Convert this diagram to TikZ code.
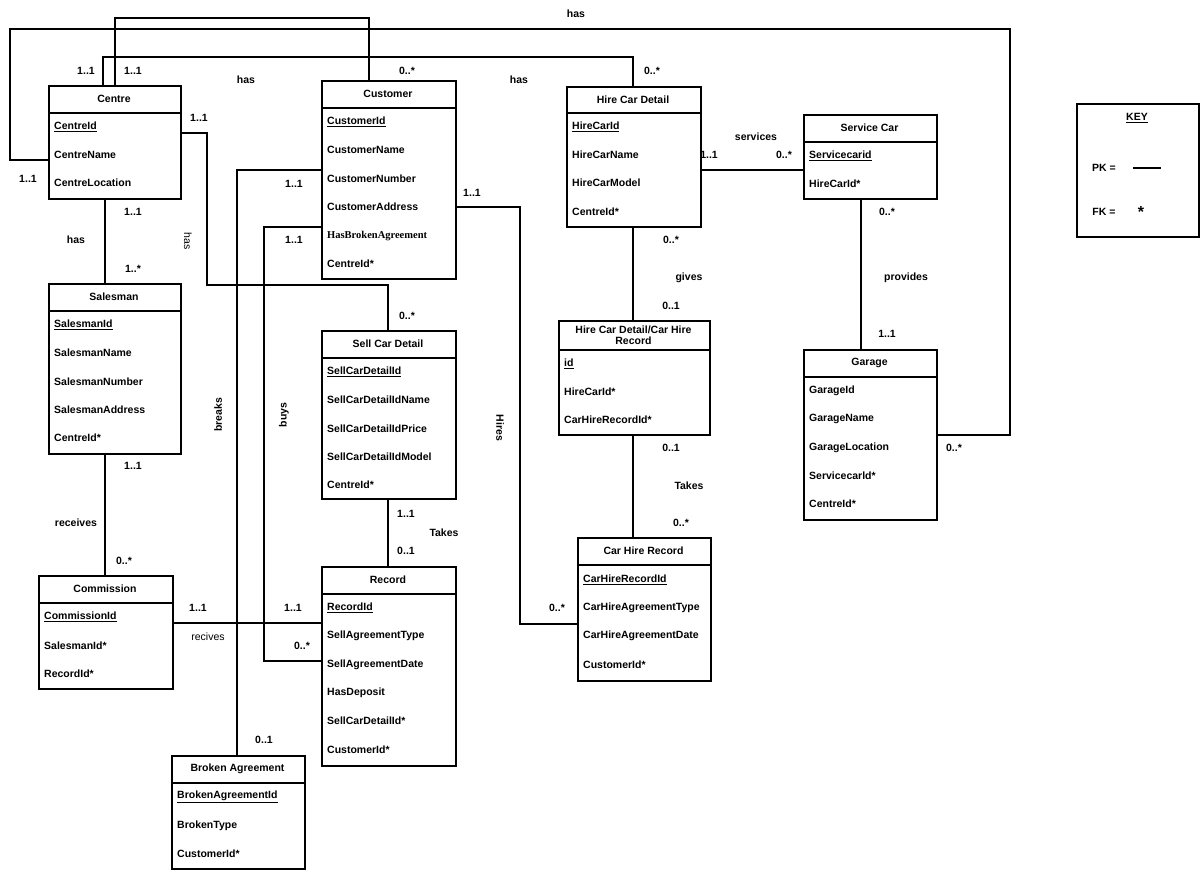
\documentclass[tikz,border=0pt]{standalone}
\usepackage{fontspec}
\setmainfont{Liberation Sans}
\newfontfamily\serifb{Liberation Serif}
\begin{document}
\begin{tikzpicture}[x=1pt,y=-1pt,
  box/.style={draw,line width=1.6pt,inner sep=0pt,rectangle},
  ttl/.style={font=\fontsize{10.5}{12}\selectfont\bfseries,inner sep=0pt},
  attr/.style={font=\fontsize{10.5}{12}\selectfont\bfseries,anchor=west,inner sep=0pt},
  lbl/.style={font=\fontsize{10.5}{12}\selectfont\bfseries,inner sep=0pt},
  conn/.style={line width=1.4pt}]
\useasboundingbox (0,0) rectangle (1200,870);
\newcommand\entity[7]{%
  \node[box,minimum width={#4-#2},minimum height={#5-#3},anchor=north west] (#1) at (#2,#3) {};
  \draw[line width=1.6pt] (#2,#6) -- (#4,#6);
  \node[ttl,align=center] (#1-t) at ({(#2+#4)/2},{(#3+#6)/2}) {#7};}
% Centre
\entity{centre}{48}{85}{180}{198}{113}{Centre}
\node[attr] (centre-1) at (54,127) {\underline{CentreId}};
\node[attr] (centre-2) at (54,155) {CentreName};
\node[attr] (centre-3) at (54,183) {CentreLocation};
% Customer
\entity{customer}{321}{80}{455}{278}{108}{Customer}
\node[attr] (cu-1) at (327,122) {\underline{CustomerId}};
\node[attr] (cu-2) at (327,150) {CustomerName};
\node[attr] (cu-3) at (327,179) {CustomerNumber};
\node[attr] (cu-4) at (327,207) {CustomerAddress};
\node[attr,font=\serifb\fontsize{10.5}{12}\selectfont\bfseries] (cu-5) at (327,236) {HasBrokenAgreement};
\node[attr] (cu-6) at (327,264) {CentreId*};
% Hire Car Detail
\entity{hcd}{566}{86}{700}{226}{113}{Hire Car Detail}
\node[attr] (hcd-1) at (572,127) {\underline{HireCarId}};
\node[attr] (hcd-2) at (572,155) {HireCarName};
\node[attr] (hcd-3) at (572,183) {HireCarModel};
\node[attr] (hcd-4) at (572,212) {CentreId*};
% Service Car
\entity{service}{803}{114}{936}{198}{142}{Service Car}
\node[attr] (sc-1) at (809,156) {\underline{Servicecarid}};
\node[attr] (sc-2) at (809,184) {HireCarId*};
% KEY
\node[box,minimum width=122,minimum height=133,anchor=north west] (key) at (1076,103) {};
\node[lbl] (key-t) at (1137,118) {\underline{KEY}};
\node[lbl] (key-pk) at (1104,168) {PK =};
\draw[line width=1.2pt] (1133,168) -- (1161,168);
\node[lbl] (key-fk) at (1104,212) {FK =};
\node[lbl,font=\fontsize{16}{16}\selectfont\bfseries] (key-star) at (1141,212) {*};
% Salesman
\entity{salesman}{48}{283}{180}{453}{311}{Salesman}
\node[attr] (sa-1) at (54,325) {\underline{SalesmanId}};
\node[attr] (sa-2) at (54,353) {SalesmanName};
\node[attr] (sa-3) at (54,382) {SalesmanNumber};
\node[attr] (sa-4) at (54,410) {SalesmanAddress};
\node[attr] (sa-5) at (54,438) {CentreId*};
% Sell Car Detail
\entity{sell}{321}{330}{455}{498}{358}{Sell Car Detail}
\node[attr] (se-1) at (327,372) {\underline{SellCarDetailId}};
\node[attr] (se-2) at (327,400) {SellCarDetailIdName};
\node[attr] (se-3) at (327,429) {SellCarDetailIdPrice};
\node[attr] (se-4) at (327,457) {SellCarDetailIdModel};
\node[attr] (se-5) at (327,485) {CentreId*};
% Hire Car Detail/Car Hire Record
\entity{hcdchr}{558}{320}{709}{434}{350}{Hire Car Detail/Car Hire\\[-1pt]Record}
\node[attr] (hc-1) at (564,364) {\underline{id}};
\node[attr] (hc-2) at (564,392) {HireCarId*};
\node[attr] (hc-3) at (564,420) {CarHireRecordId*};
% Garage
\entity{garage}{803}{349}{936}{519}{377}{Garage}
\node[attr] (ga-1) at (809,391) {GarageId};
\node[attr] (ga-2) at (809,419) {GarageName};
\node[attr] (ga-3) at (809,448) {GarageLocation};
\node[attr] (ga-4) at (809,476) {Servicecarld*};
\node[attr] (ga-5) at (809,504) {CentreId*};
% Commission
\entity{commission}{38}{575}{172}{688}{603}{Commission}
\node[attr] (co-1) at (44,617) {\underline{CommissionId}};
\node[attr] (co-2) at (44,646) {SalesmanId*};
\node[attr] (co-3) at (44,674) {RecordId*};
% Record
\entity{record}{321}{566}{455}{765}{594}{Record}
\node[attr] (re-1) at (327,608) {\underline{RecordId}};
\node[attr] (re-2) at (327,636) {SellAgreementType};
\node[attr] (re-3) at (327,665) {SellAgreementDate};
\node[attr] (re-4) at (327,693) {HasDeposit};
\node[attr] (re-5) at (327,721) {SellCarDetailId*};
\node[attr] (re-6) at (327,750) {CustomerId*};
% Car Hire Record
\entity{chr}{577}{537}{710}{680}{565}{Car Hire Record}
\begin{scope}
\clip (577,537) rectangle (709,680);
\node[attr] (ch-1) at (583,580) {\underline{CarHireRecordId}};
\node[attr] (ch-2) at (583,608) {CarHireAgreementType};
\node[attr] (ch-3) at (583,636) {CarHireAgreementDate};
\node[attr] (ch-4) at (583,665) {CustomerId*};
\end{scope}
% Broken Agreement
\entity{broken}{171}{755}{304}{868}{783}{Broken Agreement}
\node[attr] (br-1) at (177,797) {\underline{BrokenAgreementId}};
\node[attr] (br-2) at (177,826) {BrokenType};
\node[attr] (br-3) at (177,854) {CustomerId*};
% Connectors
\draw[conn] (centre.north -| 115,0) -- (115,18) -| (customer.north -| 369,0);
\draw[conn] (centre.north -| 103,0) -- (103,57) -| (hcd.north -| 633,0);
\draw[conn] (centre.west |- 0,160) -- (10,160) |- (1010,29) |- (garage.east |- 0,435);
\draw[conn] (centre.east |- 0,133) -| (207,285) -| (sell.north -| 388,0);
\draw[conn] (customer.west |- 0,170) -| (broken.north -| 237,0);
\draw[conn] (customer.west |- 0,227) -| (264,661) -- (record.west |- 0,661);
\draw[conn] (customer.east |- 0,207) -| (520,624) -- (chr.west |- 0,624);
\draw[conn] (commission.east |- 0,623) -- (record.west |- 0,623);
\draw[conn] (hcd.east |- 0,170) -- (service.west |- 0,170);
\draw[conn] (service.south -| 861,0) -- (garage.north -| 861,0);
\draw[conn] (hcd.south -| 633,0) -- (hcdchr.north -| 633,0);
\draw[conn] (hcdchr.south -| 633,0) -- (chr.north -| 633,0);
\draw[conn] (centre.south -| 105,0) -- (salesman.north -| 105,0);
\draw[conn] (salesman.south -| 105,0) -- (commission.north -| 105,0);
\draw[conn] (sell.south -| 388,0) -- (record.north -| 388,0);
% Labels
\node[lbl] (l1) at (576,14) {has};
\node[lbl] (l2) at (86,71) {1..1};
\node[lbl] (l3) at (133,71) {1..1};
\node[lbl] (l4) at (246,80) {has};
\node[lbl] (l5) at (407,71) {0..*};
\node[lbl] (l6) at (519,80) {has};
\node[lbl] (l7) at (652,71) {0..*};
\node[lbl] (l8) at (199,118) {1..1};
\node[lbl] (l9) at (28,179) {1..1};
\node[lbl] (l10) at (294,184) {1..1};
\node[lbl] (l11) at (294,240) {1..1};
\node[lbl] (l12) at (472,193) {1..1};
\node[lbl] (l13) at (133,212) {1..1};
\node[lbl] (l14) at (76,240) {has};
\node[lbl,font=\fontsize{10.5}{12}\selectfont,rotate=-90] (l15) at (188,241) {has};
\node[lbl] (l16) at (133,269) {1..*};
\node[lbl] (l17) at (709,155) {1..1};
\node[lbl] (l18) at (756,137) {services};
\node[lbl] (l19) at (784,155) {0..*};
\node[lbl] (l20) at (887,212) {0..*};
\node[lbl] (l21) at (671,240) {0..*};
\node[lbl] (l22) at (689,278) {gives};
\node[lbl] (l23) at (906,278) {provides};
\node[lbl] (l24) at (671,306) {0..1};
\node[lbl] (l25) at (407,316) {0..*};
\node[lbl] (l26) at (887,334) {1..1};
\node[lbl,rotate=90] (l27) at (218,415) {breaks};
\node[lbl,rotate=90] (l28) at (284,415) {buys};
\node[lbl,rotate=-90] (l29) at (500,428) {Hires};
\node[lbl] (l30) at (133,466) {1..1};
\node[lbl] (l31) at (671,448) {0..1};
\node[lbl] (l32) at (954,448) {0..*};
\node[lbl] (l33) at (689,486) {Takes};
\node[lbl] (l34) at (76,523) {receives};
\node[lbl] (l35) at (681,523) {0..*};
\node[lbl] (l36) at (406,514) {1..1};
\node[lbl] (l37) at (444,533) {Takes};
\node[lbl] (l38) at (406,551) {0..1};
\node[lbl] (l39) at (124,561) {0..*};
\node[lbl] (l40) at (198,608) {1..1};
\node[lbl] (l41) at (293,608) {1..1};
\node[lbl] (l42) at (557,608) {0..*};
\node[lbl,font=\fontsize{10.5}{12}\selectfont] (l43) at (208,637) {recives};
\node[lbl] (l44) at (302,646) {0..*};
\node[lbl] (l45) at (264,740) {0..1};
\end{tikzpicture}
\end{document}
